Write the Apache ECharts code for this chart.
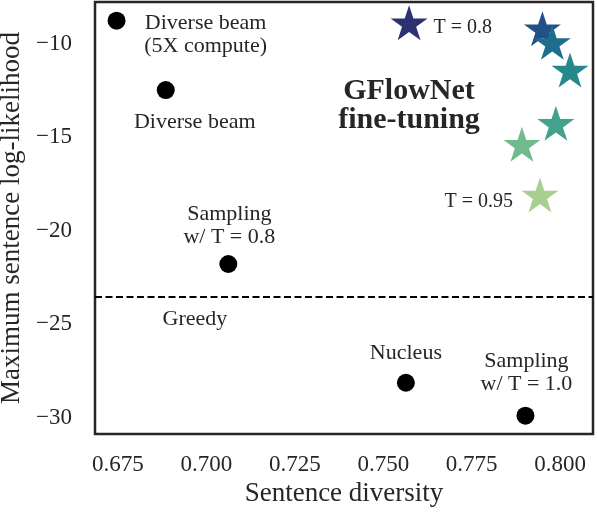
<!DOCTYPE html>
<html>
<head>
<meta charset="utf-8">
<script src="https://cdn.jsdelivr.net/npm/echarts@6/dist/echarts.min.js"></script>
<style>
html,body{margin:0;padding:0;background:#fff;}
#chart{width:597px;height:513px;}
</style>
</head>
<body>
<div id="chart"></div>
<script>
// ---- data ----
const baselineNames = ['Diverse beam\n(5X compute)', 'Diverse beam', 'Sampling\nw/ T = 0.8', 'Nucleus', 'Sampling\nw/ T = 1.0'];
const baselineDiversity = [0.6746, 0.6885, 0.7062, 0.7564, 0.7902];
const baselineLogLik = [-8.78, -12.49, -21.79, -28.14, -29.90];

const greedyLogLik = -23.54;
const greedyName = 'Greedy';

const gfnDiversity = [0.7573, 0.7950, 0.7978, 0.8028, 0.7988, 0.7892, 0.7943];
const gfnLogLik = [-8.98, -9.30, -10.03, -11.51, -14.36, -15.48, -18.19];
const gfnLabels = ['T = 0.8', '', '', '', '', '', 'T = 0.95'];

const xTicks = [0.675, 0.700, 0.725, 0.750, 0.775, 0.800];
const yTicks = [-30, -25, -20, -15, -10];

// ---- styles ----
const starColors = ['#2c3172', '#245089', '#1d6e8c', '#27888c', '#43a28b', '#70ba8d', '#a6cf90'];
const baselineLabelOffsets = [[89, 14], [29, 32], [1, -38], [0, -30], [1, -43]];
const serif = '"Liberation Serif", "Times New Roman", Times, serif';
const starPath = 'path://M0,-1L0.2245,-0.309L0.951,-0.309L0.363,0.118L0.588,0.809L0,0.382L-0.588,0.809L-0.363,0.118L-0.951,-0.309L-0.2245,-0.309Z';

const minus = v => (v < 0 ? '\u2212' : '') + Math.abs(v);

const chart = echarts.init(document.getElementById('chart'), null, {renderer: 'canvas'});

const baselineData = baselineDiversity.map((x, i) => ({
  value: [x, baselineLogLik[i]],
  name: baselineNames[i],
  label: {offset: baselineLabelOffsets[i]}
}));

const gfnData = gfnDiversity.map((x, i) => {
  const item = {value: [x, gfnLogLik[i]], itemStyle: {color: starColors[i], opacity: 1}};
  if (gfnLabels[i]) {
    item.label = i === 0
      ? {show: true, formatter: gfnLabels[i], position: 'right', distance: 6, offset: [0, 5.5]}
      : {show: true, formatter: gfnLabels[i], position: 'left', distance: 8.5, offset: [0, 6.4]};
  }
  return item;
});

chart.setOption({
  animation: false,
  backgroundColor: '#fff',
  grid: {left: 95, right: 4, top: 2, bottom: 79, show: true, borderColor: '#262626', borderWidth: 2.5, backgroundColor: 'transparent', containLabel: false, outerBoundsMode: 'none'},
  xAxis: {
    type: 'value', min: 0.6685, max: 0.8093,
    name: 'Sentence diversity', nameLocation: 'middle', nameGap: 45,
    nameTextStyle: {fontFamily: serif, fontSize: 27, color: '#262626'},
    axisLine: {show: false}, axisTick: {show: false}, splitLine: {show: false},
    axisLabel: {customValues: xTicks, formatter: v => v.toFixed(3), fontFamily: serif, fontSize: 23, color: '#262626', margin: 19}
  },
  yAxis: {
    type: 'value', min: -30.88, max: -7.78,
    name: 'Maximum sentence log-likelihood', nameLocation: 'middle', nameGap: 59,
    nameTextStyle: {fontFamily: serif, fontSize: 27, color: '#262626'},
    axisLine: {show: false}, axisTick: {show: false}, splitLine: {show: false},
    axisLabel: {customValues: yTicks, formatter: minus, fontFamily: serif, fontSize: 23, color: '#262626', margin: 23}
  },
  graphic: [{
    type: 'text', x: 409, y: 106, z: 10,
    style: {text: 'GFlowNet\nfine-tuning', font: 'bold 30px "Liberation Serif", "Times New Roman", serif', fill: '#262626', align: 'center', verticalAlign: 'middle', lineHeight: 29}
  }],
  series: [
    {
      type: 'scatter', name: 'Baselines',
      symbol: 'circle', symbolSize: 18,
      itemStyle: {color: '#000', opacity: 1},
      data: baselineData,
      label: {show: true, position: 'inside', formatter: p => p.name, fontFamily: serif, fontSize: 22, color: '#262626', lineHeight: 23, align: 'center', verticalAlign: 'middle'},
      markLine: {
        silent: true, symbol: ['none', 'none'],
        lineStyle: {color: '#000', type: [7, 3.5], width: 1.8},
        label: {show: true, position: 'insideStartBottom', distance: [67.5, 11], formatter: greedyName, fontFamily: serif, fontSize: 22, color: '#262626'},
        data: [{yAxis: greedyLogLik}]
      },
      z: 3
    },
    {
      type: 'scatter', name: 'GFlowNet',
      symbol: starPath, symbolSize: [37, 35], symbolOffset: [0, -1.8],
      data: gfnData,
      itemStyle: {opacity: 1},
      label: {show: false, fontFamily: serif, fontSize: 20, color: '#262626'},
      z: 4
    }
  ]
});
</script>
</body>
</html>
